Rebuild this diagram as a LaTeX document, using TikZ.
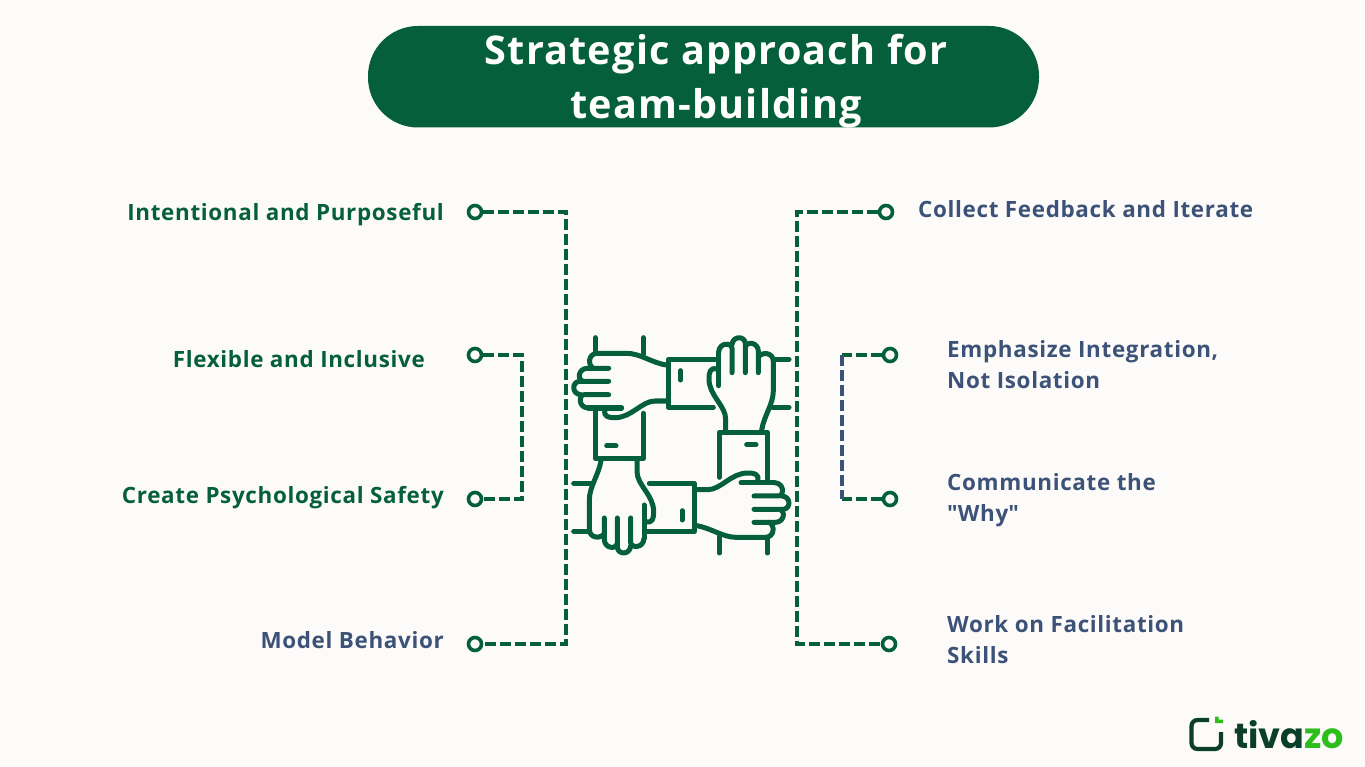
\documentclass[tikz,border=0pt]{standalone}
\usepackage{fontspec}
\setmainfont{Open Sans}[LetterSpace=3]
\newfontfamily\logofont{Poppins}
\definecolor{paper}{HTML}{FCFBF9}
\definecolor{leaf}{HTML}{055F3A}
\definecolor{slate}{HTML}{3D5278}
\definecolor{logodark}{HTML}{0B3F2C}
\definecolor{logolime}{HTML}{2DBE1E}
\tikzset{
  pill/.style = {fill=leaf, rounded corners=50pt},
  titleline/.style = {text=white, inner sep=0, anchor=base, font=\fontsize{39.6}{40}\selectfont\bfseries},
  label/.style = {inner sep=0, align=left, font=\fontsize{22.4}{31}\selectfont\bfseries},
  dot/.style = {circle, draw=leaf, line width=3.6pt, fill=paper, minimum size=13pt, inner sep=0},
  dashline/.style = {leaf, line width=3.4pt, dash pattern=on 11pt off 4pt},
  armline/.style = {leaf, line width=5pt, line cap=round, line join=round},
}
\begin{document}
\begin{tikzpicture}[x=1pt, y=-1pt]
  \fill [paper] (0,0) rectangle (1365,767);

  % title
  \fill [pill] (368,26) rectangle (1039,127.5);
  \node (titleA) [titleline] at (716,64.5) {Strategic approach for};
  \node (titleB) [titleline] at (716,119) {team-building};

  % labels on the left and on the right
  \foreach \n/\x/\y/\a/\c/\t in {
    intent/444/221/base east/leaf/{Intentional and Purposeful},
    flex/425/367/base east/leaf/{Flexible and Inclusive},
    safe/444/503/base east/leaf/{Create Psychological Safety},
    model/444/648/base east/slate/{Model Behavior},
    collect/918/218/base west/slate/{Collect Feedback and Iterate},
    emph/947/388/base west/slate/{Emphasize Integration,\\Not Isolation},
    comm/947/521/base west/slate/{Communicate the\\\textquotedbl Why\textquotedbl},
    work/947/663/base west/slate/{Work on Facilitation\\Skills}%
  }{
    \node (\n) [label, anchor=\a, text=\c] at (\x,\y) {\t};
  }

  % connectors
  \node (dotA) [dot] at (475,212) {};
  \node (dotB) [dot] at (475,644) {};
  \node (dotC) [dot] at (475,355) {};
  \node (dotD) [dot] at (475,499) {};
  \node (dotE) [dot] at (886,212) {};
  \node (dotF) [dot] at (889,644) {};
  \node (dotG) [dot] at (890,355) {};
  \node (dotH) [dot] at (890,499) {};
  \coordinate (cornerA) at (566,212);
  \coordinate (cornerB) at (566,644);
  \coordinate (cornerC) at (522,355);
  \coordinate (cornerD) at (522,499);
  \coordinate (cornerE) at (797,212);
  \coordinate (cornerF) at (797,644);
  \coordinate (cornerG) at (842,355);
  \coordinate (cornerH) at (842,499);
  \draw [dashline] (dotA) -- (cornerA) -- (cornerB) -- (dotB);
  \draw [dashline] (dotC) -- (cornerC) -- (cornerD) -- (dotD);
  \draw [dashline] (dotE) -- (cornerE) -- (cornerF) -- (dotF);
  \draw [dashline] (dotG) -- (cornerG);
  \draw [dashline] (dotH) -- (cornerH);
  \draw [dashline, slate] (cornerG) -- (cornerH);

  % four arms, same drawing turned round the middle
  \begin{scope}[shift={(560,320)}, scale=1/3]
    \foreach \a in {0,90,180,270}{
      \begin{scope}[rotate around={\a:(364,376)}]
        % cuff and sleeve
        \draw [armline] (465,118) -- (325,118) -- (325,262) -- (460,262);
        \draw [armline] (645,118) -- (687,118);
        \draw [armline] (637,262) -- (687,262);
        \draw [armline] (362,152) -- (362,180);
        % back of the hand
        \draw [armline] (318,135) .. controls (275,128) and (240,100) .. (200,100)
          -- (112,100) .. controls (85,100) and (82,135) .. (100,145);
        % fingers
        \draw [armline] (146,145) -- (82,145) .. controls (55,145) and (50,180) .. (70,184);
        \draw [armline] (146,184) -- (58,184) .. controls (35,186) and (35,222) .. (62,224);
        \draw [armline] (146,224) -- (72,224) .. controls (55,226) and (55,263) .. (85,264);
        % thumb
        \draw [armline] (185,264) -- (85,264);
        \draw [armline] (135,270) .. controls (130,290) and (145,293) .. (165,293)
          .. controls (215,293) and (245,243) .. (285,243) -- (320,243);
      \end{scope}
    }
  \end{scope}

  % logo
  \draw [logodark, line width=4.2pt, rounded corners=6pt] (1209,720) -- (1191.5,720) -- (1191.5,749) -- (1221,749) -- (1221,732);
  \fill [logolime] (1215,716.5) -- (1218.5,716.5) -- (1218.5,719.5) -- (1223,719.5) -- (1223,723) -- (1215,723) -- cycle;
  \node (logo) [inner sep=0, anchor=base west, font=\logofont\fontsize{35}{35}\selectfont\bfseries] at (1234,748)
    {\textcolor{logodark}{tiva}\textcolor{logolime}{zo}};
\end{tikzpicture}
\end{document}
